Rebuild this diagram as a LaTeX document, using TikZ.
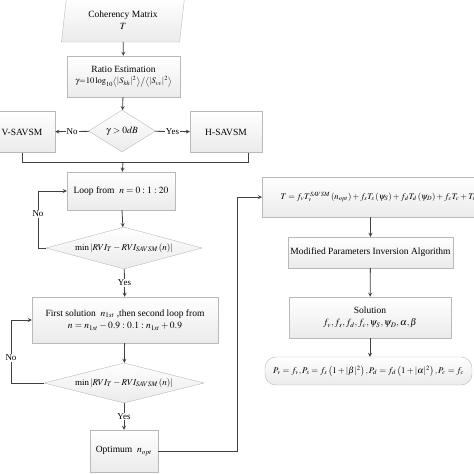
\documentclass[tikz,border=0pt]{standalone}
\usepackage{mathptmx}
\usepackage{fontspec}
\setmainfont{Liberation Serif}
\usetikzlibrary{shapes.geometric}
\tikzset{
  proc/.style={draw=gray!55,top color=white,bottom color=gray!16,inner sep=1pt,
    align=center,font=\fontsize{9.5}{12.5}\selectfont},
  dec/.style={proc,diamond,inner sep=0pt},
  flow/.style={draw=black!75,line width=.8pt},
  lbl/.style={fill=white,inner sep=1pt,font=\fontsize{9}{10}\selectfont}
}
\begin{document}
\begin{tikzpicture}[x=1pt,y=-1pt,>=stealth]
 \useasboundingbox (0,0) rectangle (474,474);
 % left column
 \node[proc,trapezium,trapezium left angle=77,trapezium right angle=103,
   trapezium stretches body,minimum width=123pt,minimum height=44pt] (coh) at (123,20) {Coherency Matrix\\$T$};
 \node[proc,minimum width=113pt,minimum height=41pt] (ratio) at (123.5,76.5)
   {Ratio Estimation\\[-1pt]{\fontsize{8.5}{9}\selectfont$\gamma{=}10\log_{10}\bigl\langle|S_{hh}|^2\bigr\rangle\big/\bigl\langle|S_{vv}|^2\bigr\rangle$}};
 \node[dec,aspect=1.6,minimum width=67pt,minimum height=42pt] (gam) at (122,131) {$\gamma>0dB$};
 \node[proc,minimum width=66pt,minimum height=41pt] (vsav) at (22,132) {V-SAVSM};
 \node[proc,minimum width=72pt,minimum height=41pt] (hsav) at (226,132) {H-SAVSM};
 \coordinate (mrg) at (123,162);
 \node[proc,minimum width=108pt,minimum height=38pt] (loop) at (121,191) {Loop from \ $n=0:1:20$};
 \node[dec,aspect=3.7,minimum width=156pt,minimum height=42pt] (min1) at (124,248)
   {\fontsize{9}{10}\selectfont$\min\left|RVI_T-RVI_{SAVSM}\left(n\right)\right|$};
 \node[proc,minimum width=186pt,minimum height=46pt] (sec) at (125,320)
   {First solution \ $n_{1st}$ ,then second loop from\\$n=n_{1st}-0.9:0.1:n_{1st}+0.9$};
 \node[dec,aspect=4,minimum width=160pt,minimum height=40pt] (min2) at (124,383)
   {\fontsize{9}{10}\selectfont$\min\left|RVI_T-RVI_{SAVSM}\left(n\right)\right|$};
 \node[proc,minimum width=68pt,minimum height=42pt] (opt) at (124,451) {Optimum \ $n_{opt}$};
 \coordinate (c1) at (38,248);
 \coordinate (c2) at (11,383);
 \coordinate (c3) at (237,451);
 % right column
 \node[proc,minimum width=240pt,minimum height=40pt,anchor=west,font=\fontsize{8.6}{10}\selectfont] (tmod) at (262,197)
   {\ $T=f_vT_v^{SAVSM}\left(n_{opt}\right)+f_sT_s\left(\psi_S\right)+f_dT_d\left(\psi_D\right)+f_cT_c+T_{resid}$\hfill};
 \node[proc,minimum width=165pt,minimum height=31pt] (mpia) at (370.5,252.5) {Modified Parameters Inversion Algorithm};
 \node[proc,minimum width=162pt,minimum height=41pt] (sol) at (370,317.5)
   {Solution\\$f_v, f_s, f_d, f_c, \psi_S, \psi_D, \alpha, \beta$};
 \node[proc,rounded corners=11pt,minimum width=207pt,minimum height=28pt,font=\fontsize{8.8}{10}\selectfont] (pow) at (368.5,371)
   {$P_v=f_v, P_s=f_s\left(1+|\beta|^2\right), P_d=f_d\left(1+|\alpha|^2\right), P_c=f_c$};
 % connectors
 \draw[flow,->] (coh) -- (ratio);
 \draw[flow,->] (ratio) -- (gam);
 \draw[flow,->] (gam) -- node[lbl] {No} (vsav);
 \draw[flow,->] (gam) -- node[lbl] {Yes} (hsav);
 \draw[flow] (vsav) |- (mrg);
 \draw[flow] ([xshift=22pt]hsav.south) |- (mrg);
 \draw[flow,->] (mrg) -- (loop);
 \draw[flow,->] (loop) -- (min1);
 \draw[flow,->] (min1.west) -- (c1) |- node[lbl,pos=.3] {No} (loop.west);
 \draw[flow,->] (min1) -- node[lbl] {Yes} (sec);
 \draw[flow,->] (sec) -- (min2);
 \draw[flow,->] (min2.west) -- (c2) |- node[lbl,pos=.2] {No} (sec.west);
 \draw[flow,->] (min2) -- node[lbl] {Yes} (opt);
 \draw[flow,->] (opt.east) -- (c3) |- (tmod.west);
 \draw[flow,->] (mpia.north|-tmod.south) -- (mpia);
 \draw[flow,->] (mpia) -- (sol);
 \draw[flow,->] (sol.south) -- (pow.north-|sol.south);
\end{tikzpicture}
\end{document}
